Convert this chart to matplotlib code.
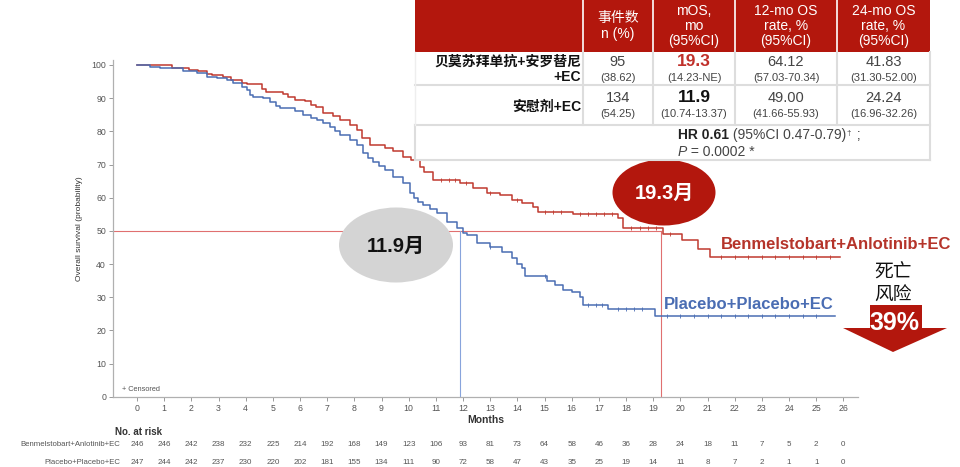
import matplotlib
matplotlib.use("Agg")
import matplotlib.pyplot as plt
from matplotlib.patches import Ellipse, Rectangle, Polygon
from matplotlib.transforms import blended_transform_factory
import numpy as np

plt.rcParams['font.family'] = ['Liberation Sans', 'Noto Sans CJK SC', 'DejaVu Sans']

# ---------------- data ----------------
months = list(range(27))

red_t = [0, 1.28, 1.9, 2.25, 2.56, 2.75, 3.17, 3.45, 3.85, 4.04, 4.6, 4.75, 5.37, 5.55, 5.8,
         6.18, 6.4, 6.6, 6.85, 7.2, 7.47, 7.84, 8.1, 8.27, 8.58, 9.13, 9.43, 9.8, 10.1, 10.42,
         10.55, 10.9, 11.9, 12.38, 12.87, 13.36, 13.79, 14.16, 14.59, 14.77, 16.06, 17.71,
         17.9, 19.36, 20.05, 20.65, 21.09]
red_s = [100, 99.0, 98.5, 98.2, 97.2, 96.9, 96.5, 95.5, 94.7, 94.3, 92.8, 92.0, 91.2, 90.4, 89.5,
         89.0, 87.9, 87.2, 85.6, 84.5, 83.4, 82.0, 80.5, 77.9, 76.0, 75.1, 74.0, 72.4, 71.4, 69.3,
         67.8, 65.3, 64.5, 62.8, 61.3, 60.8, 59.3, 58.3, 57.3, 55.8, 55.1, 53.8,
         50.8, 49.0, 47.2, 44.4, 42.0]
red_end = 25.87

blue_t = [0, 0.48, 0.85, 1.7, 2.2, 2.56, 2.93, 3.3, 3.54, 3.85, 4.04, 4.16, 4.28, 4.65, 4.9,
          5.1, 5.26, 5.8, 6.12, 6.4, 6.61, 6.86, 7.1, 7.3, 7.47, 7.84, 8.09, 8.33, 8.5, 8.7,
          8.9, 9.13, 9.43, 9.8, 10.05, 10.2, 10.35, 10.54, 10.8, 11.03, 11.4, 11.77, 12.0,
          12.13, 12.5, 12.99, 13.42, 13.79, 14.0, 14.16, 14.28, 15.08, 15.38, 15.69, 16.0,
          16.3, 16.43, 17.35, 19.05]
blue_s = [100, 99.5, 99.0, 98.3, 97.5, 96.5, 96.0, 95.5, 94.5, 93.5, 92.5, 91.0, 90.5, 90.0, 88.9,
          87.5, 86.9, 86.0, 85.0, 84.0, 83.5, 82.4, 81.4, 80.0, 78.9, 77.4, 75.9, 73.4, 72.0, 70.9,
          69.5, 68.3, 66.3, 64.3, 61.3, 60.0, 58.8, 57.8, 56.5, 55.3, 52.8, 50.8, 49.5,
          48.8, 46.2, 45.2, 43.7, 41.7, 40.0, 38.7, 36.4, 35.0, 33.7, 32.2, 31.7,
          30.1, 27.6, 26.3, 24.4]
blue_end = 25.7

red_censor = [11.2, 11.5, 11.7, 12.1, 13.0, 14.0, 15.0, 15.3, 15.6, 16.3, 16.6, 16.9, 17.2, 17.5,
              18.2, 18.5, 18.8, 19.1, 19.6, 21.5, 22.0, 22.5, 23.0, 23.5, 24.0, 24.5, 25.0, 25.5]
blue_censor = [13.0, 15.0, 16.6, 16.9, 17.1, 17.7, 18.0, 18.3, 18.6, 19.5, 20.0, 20.5, 21.0,
               21.5, 22.0, 22.5, 23.0, 23.5, 24.0, 24.5, 25.0]

risk_red = [246, 246, 242, 238, 232, 225, 214, 192, 168, 149, 123, 106, 93, 81, 73, 64, 58, 46,
            36, 28, 24, 18, 11, 7, 5, 2, 0]
risk_blue = [247, 244, 242, 237, 230, 220, 202, 181, 155, 134, 111, 90, 72, 58, 47, 43, 35, 25,
             19, 14, 11, 8, 7, 2, 1, 1, 0]

median_red = 19.3
median_blue = 11.9
y_ticks = [0, 10, 20, 30, 40, 50, 60, 70, 80, 90, 100]

arm_red = "Benmelstobart+Anlotinib+EC"
arm_blue = "Placebo+Placebo+EC"

tbl_header = ["事件数\nn (%)", "mOS,\nmo\n(95%CI)", "12-mo OS\nrate, %\n(95%CI)", "24-mo OS\nrate, %\n(95%CI)"]
tbl_labels = ["贝莫苏拜单抗+安罗替尼\n+EC", "安慰剂+EC"]
tbl_events = [("95", "(38.62)"), ("134", "(54.25)")]
tbl_mos = [("19.3", "(14.23-NE)"), ("11.9", "(10.74-13.37)")]
tbl_12 = [("64.12", "(57.03-70.34)"), ("49.00", "(41.66-55.93)")]
tbl_24 = [("41.83", "(31.30-52.00)"), ("24.24", "(16.96-32.26)")]
hr_text = ("HR 0.61", " (95%CI 0.47-0.79)", "†", " ;")
p_text = ("P", " = 0.0002 *")
risk_reduction = "39%"

# ---------------- colours ----------------
RED = '#c0392f'
BLUE = '#4a6db3'
DARKRED = '#b3170d'
GRAY = '#555555'

W, H = 960, 467
fig = plt.figure(figsize=(W / 100, H / 100), dpi=100)

ax_l, ax_r, ax_t, ax_b = 113, 858, 60, 396.7
ax = fig.add_axes([ax_l / W, 1 - ax_b / H, (ax_r - ax_l) / W, (ax_b - ax_t) / H])
x0px, pxm = 137.0, 27.17
ax.set_xlim((ax_l - x0px) / pxm, (ax_r - x0px) / pxm)
ax.set_ylim(0, 0 + (ax_b - ax_t) / 3.317)

for sp in ['top', 'right']:
    ax.spines[sp].set_visible(False)
for sp in ['left', 'bottom']:
    ax.spines[sp].set_color('#b0b0b0')
    ax.spines[sp].set_linewidth(0.9)
ax.set_xticks(months)
ax.set_yticks(y_ticks)
ax.tick_params(axis='both', colors='#9a9a9a', labelcolor='#555555', labelsize=6.3,
               length=3, width=0.7, pad=2)
ax.tick_params(axis='x', pad=2)
ax.set_xlabel("Months", fontsize=7.5, fontweight='bold', color='#333333', labelpad=2)
ax.set_ylabel("Overall survival (probability)", fontsize=6, color='#333333', labelpad=6)

# median guide lines
ax.plot([ax.get_xlim()[0], median_red], [50, 50], color='#e07070', lw=0.8, zorder=1)
ax.plot([median_blue, median_blue], [0, 50], color='#88a4dc', lw=0.8, zorder=1)
ax.plot([median_red, median_red], [0, 50], color='#e07070', lw=0.8, zorder=1)

# KM curves
ax.step(red_t + [red_end], red_s + [red_s[-1]], where='post', color=RED, lw=1.1, zorder=3)
ax.step(blue_t + [blue_end], blue_s + [blue_s[-1]], where='post', color=BLUE, lw=1.1, zorder=3)


def surv_at(ts, ss, x):
    idx = np.searchsorted(ts, x, side='right') - 1
    return ss[idx]


ax.plot(red_censor, [surv_at(red_t, red_s, c) for c in red_censor], ls='none', marker='|',
        ms=3, mew=0.6, color=RED, zorder=3)
ax.plot(blue_censor, [surv_at(blue_t, blue_s, c) for c in blue_censor], ls='none', marker='|',
        ms=3, mew=0.6, color=BLUE, zorder=3)

ax.text(0.012, 0.012, "+ Censored", transform=ax.transAxes, fontsize=5.3, color='#555555',
        ha='left', va='bottom')

# curve labels
ax.text(21.5, 46.0, arm_red, color='#b5342a', fontsize=12, fontweight='bold', ha='left', va='center')
ax.text(19.4, 27.7, arm_blue, color=BLUE, fontsize=12, fontweight='bold', ha='left', va='center')

# numbers at risk
tr = blended_transform_factory(ax.transData, fig.transFigure)
fig.text(115 / W, 1 - 432 / H, "No. at risk", fontsize=7, fontweight='bold', color='#333333',
         ha='left', va='center')
fig.text(120 / W, 1 - 445 / H, arm_red, fontsize=5.6, color=GRAY, ha='right', va='center')
fig.text(120 / W, 1 - 462 / H, arm_blue, fontsize=5.6, color=GRAY, ha='right', va='center')
for m, a, b in zip(months, risk_red, risk_blue):
    ax.text(m, 1 - 445 / H, str(a), transform=tr, fontsize=5.8, color=GRAY, ha='center',
            va='center', clip_on=False)
    ax.text(m, 1 - 462 / H, str(b), transform=tr, fontsize=5.8, color=GRAY, ha='center',
            va='center', clip_on=False)

# ---------------- overlay (pixel coordinates) ----------------
ov = fig.add_axes([0, 0, 1, 1], zorder=5)
ov.set_xlim(0, W)
ov.set_ylim(H, 0)
ov.axis('off')
ov.patch.set_alpha(0)

# ellipses
ov.add_patch(Ellipse((396, 245), 114, 75, facecolor='#d4d4d4', edgecolor='none'))
ov.text(396, 246, "11.9月", fontsize=14.5, fontweight='bold', color='#111111', ha='center', va='center')
ov.add_patch(Ellipse((664, 192.5), 103, 66, facecolor=DARKRED, edgecolor='none'))
ov.text(664, 193, "19.3月", fontsize=14.5, fontweight='bold', color='white', ha='center', va='center')

# arrow
ov.add_patch(Polygon([(870, 305), (922, 305), (922, 328), (947, 328), (893, 352), (843, 328), (870, 328)],
                     closed=True, facecolor=DARKRED, edgecolor='none'))
ov.text(893, 273, "死亡", fontsize=13.5, color='#111111', ha='center', va='center')
ov.text(893, 296, "风险", fontsize=13.5, color='#111111', ha='center', va='center')
ov.text(894, 323, risk_reduction, fontsize=18, fontweight='bold', color='white', ha='center', va='center')

# table
cols = [415, 583, 653, 735, 837, 930]
rows = [0, 52, 85, 125, 160]
ov.add_patch(Rectangle((cols[0], rows[0]), cols[-1] - cols[0], rows[-1] - rows[0],
                       facecolor='white', edgecolor='none'))
ov.add_patch(Rectangle((cols[0], rows[0]), cols[-1] - cols[0], rows[1] - rows[0],
                       facecolor=DARKRED, edgecolor='none'))
for c in cols[1:-1]:
    ov.plot([c, c], [rows[0], rows[1]], color='white', lw=1.2)
    ov.plot([c, c], [rows[1], rows[3]], color='#dddddd', lw=1.5)
for r in rows[2:]:
    ov.plot([cols[0], cols[-1]], [r, r], color='#dddddd', lw=1.5)
ov.plot([cols[-1], cols[-1]], [rows[1], rows[-1]], color='#dddddd', lw=1.5)
ov.plot([cols[0], cols[0]], [rows[3], rows[-1]], color='#dddddd', lw=1.5)
ov.plot([cols[0], cols[0]], [rows[1], rows[3]], color='#eeeeee', lw=1.0)

centers = [(cols[i] + cols[i + 1]) / 2 for i in range(1, 5)]
for cx, txt in zip(centers, tbl_header):
    ov.text(cx, 26, txt, fontsize=10, color='white', ha='center', va='center', linespacing=1.12)

row_lines = [(62, 77), (98, 113)]
for i in range(2):
    ya, yb = row_lines[i]
    ov.text(cols[1] - 2, (ya + yb) / 2 if i == 0 else 107, tbl_labels[i], fontsize=10,
            fontweight='bold', color='#111111', ha='right', va='center', linespacing=1.1)
    for cx, (big, small) in zip(centers, [tbl_events[i], tbl_mos[i], tbl_12[i], tbl_24[i]]):
        if cx == centers[1]:
            ov.text(cx, ya, big, fontsize=12.5, fontweight='bold',
                    color='#c0302a' if i == 0 else '#111111', ha='center', va='center')
        else:
            ov.text(cx, ya, big, fontsize=10.5, color='#444444', ha='center', va='center')
        ov.text(cx, yb + 1, small, fontsize=8, color='#444444', ha='center', va='center')

t1 = ov.text(678, 139, hr_text[0], fontsize=10, fontweight='bold', color='#222222', ha='left', va='baseline')
t2 = ov.annotate(hr_text[1], xy=(1, 0), xycoords=t1, fontsize=10, color='#444444', ha='left', va='bottom')
t3 = ov.annotate(hr_text[2], xy=(1, 0.35), xycoords=t2, fontsize=6, color='#444444', ha='left', va='bottom')
t4 = ov.annotate(hr_text[3], xy=(1, 0), xycoords=t2, xytext=(5, 0), textcoords='offset points',
                 fontsize=10, color='#444444', ha='left', va='bottom')
p1 = ov.text(678, 156, p_text[0], fontsize=10, fontstyle='italic', color='#444444', ha='left', va='baseline')
ov.annotate(p_text[1], xy=(1, 0), xycoords=p1, fontsize=10, color='#444444', ha='left', va='bottom')

fig.savefig("out.png", dpi=100)
